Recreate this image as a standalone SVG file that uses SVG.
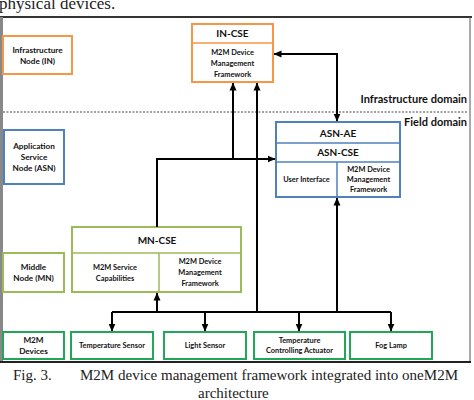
<svg xmlns="http://www.w3.org/2000/svg" width="474" height="400" viewBox="0 0 474 400">
<style>
.bx{fill:#fff;stroke-width:2}
.or{stroke:#f79646}
.bl{stroke:#4f81bd}
.lg{stroke:#9bbb59}
.dg{stroke:#22a658}
text{font-family:Lato,"Liberation Sans",sans-serif;font-weight:bold;fill:#111;text-anchor:middle}
.s{font-size:7.4px}
.m{font-size:8.2px}
.h{font-size:10px}
.d{font-size:11px;text-anchor:end}
.cap{font-family:"Liberation Serif","DejaVu Serif",serif;font-weight:normal;font-size:15px;text-anchor:start;fill:#222}
.ln{fill:none;stroke:#000;stroke-width:2}
</style>
<defs>
<marker id="ah" markerUnits="userSpaceOnUse" markerWidth="8" markerHeight="8" viewBox="0 0 8 8" refX="7.5" refY="4" orient="auto-start-reverse">
<path d="M0,0.5 L8,4 L0,7.5 Z" fill="#000"/>
</marker>
</defs>
<rect width="474" height="400" fill="#fff"/>
<text class="cap" x="-1" y="9" style="font-size:17px">physical devices.</text>
<g id="frame">
<line x1="0" y1="17" x2="472" y2="17" stroke="#333" stroke-width="2"/>
<line x1="1.5" y1="17" x2="1.5" y2="362" stroke="#888" stroke-width="3"/>
<line x1="470" y1="17" x2="470" y2="362" stroke="#555" stroke-width="1"/>
<line x1="0" y1="362" x2="471" y2="362" stroke="#222" stroke-width="2"/>
<line x1="3" y1="112" x2="468" y2="112" stroke="#444" stroke-width="1" stroke-dasharray="2,1.5"/>
</g>
<g id="domains">
<text class="d" x="467" y="103">Infrastructure domain</text>
<text class="d" x="467" y="126">Field domain</text>
</g>
<g id="in-label">
<rect class="bx or" x="3" y="36" width="69" height="38"/>
<text class="m" x="37.5" y="53">Infrastructure</text>
<text class="m" x="37.5" y="64">Node (IN)</text>
</g>
<g id="asn-label">
<rect class="bx bl" x="4" y="130" width="60" height="54"/>
<text class="m" x="34" y="149">Application</text>
<text class="m" x="34" y="160">Service</text>
<text class="m" x="34" y="171">Node (ASN)</text>
</g>
<g id="mn-label">
<rect class="bx lg" x="3" y="253" width="61" height="39"/>
<text class="m" x="33.5" y="270">Middle</text>
<text class="m" x="33.5" y="281">Node (MN)</text>
</g>
<g id="in-cse">
<rect class="bx or" x="192" y="24" width="81" height="58"/>
<line class="or" x1="192" y1="43" x2="273" y2="43" stroke-width="1.5"/>
<text class="h" x="232.5" y="37">IN-CSE</text>
<text class="s" x="232.5" y="55">M2M Device</text>
<text class="s" x="232.5" y="66">Management</text>
<text class="s" x="232.5" y="77">Framework</text>
</g>
<g id="asn">
<rect class="bx bl" x="276" y="122" width="124" height="75"/>
<line class="bl" x1="276" y1="143" x2="400" y2="143" stroke-width="1.5"/>
<line class="bl" x1="276" y1="162" x2="400" y2="162" stroke-width="1.5"/>
<line class="bl" x1="337" y1="162" x2="337" y2="197" stroke-width="1.5"/>
<text class="h" x="338" y="137">ASN-AE</text>
<text class="h" x="338" y="156">ASN-CSE</text>
<text class="s" x="306.5" y="182">User Interface</text>
<text class="s" x="368.5" y="172">M2M Device</text>
<text class="s" x="368.5" y="182">Management</text>
<text class="s" x="368.5" y="192">Framework</text>
</g>
<g id="mn-cse">
<rect class="bx lg" x="72" y="227" width="169" height="65"/>
<line class="lg" x1="72" y1="253" x2="241" y2="253" stroke-width="1.5"/>
<line class="lg" x1="159" y1="253" x2="159" y2="292" stroke-width="1.5"/>
<text class="h" x="157" y="244">MN-CSE</text>
<text class="s" x="115" y="270">M2M Service</text>
<text class="s" x="115" y="281">Capabilities</text>
<text class="s" x="200" y="264">M2M Device</text>
<text class="s" x="200" y="275">Management</text>
<text class="s" x="200" y="286">Framework</text>
</g>
<g id="m2m-devices">
<rect class="bx dg" x="3" y="332" width="61" height="27"/>
<text class="m" x="33.5" y="343">M2M</text>
<text class="m" x="33.5" y="354">Devices</text>
</g>
<g id="temperature-sensor">
<rect class="bx dg" x="71" y="332" width="82" height="27"/>
<text class="s" x="112" y="348">Temperature Sensor</text>
</g>
<g id="light-sensor">
<rect class="bx dg" x="164" y="332" width="82" height="27"/>
<text class="s" x="205" y="348">Light Sensor</text>
</g>
<g id="actuator">
<rect class="bx dg" x="254" y="332" width="91" height="27"/>
<text class="s" x="299.5" y="343">Temperature</text>
<text class="s" x="299.5" y="352.5">Controlling Actuator</text>
</g>
<g id="fog-lamp">
<rect class="bx dg" x="350" y="332" width="82" height="27"/>
<text class="s" x="391" y="348">Fog Lamp</text>
</g>
<g id="connectors">
<path class="ln" d="M337,121 L337,54 L274,54" marker-start="url(#ah)" marker-end="url(#ah)"/>
<path class="ln" d="M233,159 L233,83" marker-end="url(#ah)"/>
<path class="ln" d="M157,227 L157,159 L275,159" marker-end="url(#ah)"/>
<path class="ln" d="M257,312 L257,83" marker-end="url(#ah)"/>
<path class="ln" d="M112,312 L391,312"/>
<path class="ln" d="M157,312 L157,293" marker-end="url(#ah)"/>
<path class="ln" d="M337,312 L337,198" marker-end="url(#ah)"/>
<path class="ln" d="M112,312 L112,331" marker-end="url(#ah)"/>
<path class="ln" d="M205,312 L205,331" marker-end="url(#ah)"/>
<path class="ln" d="M299,312 L299,331" marker-end="url(#ah)"/>
<path class="ln" d="M391,312 L391,331" marker-end="url(#ah)"/>
</g>
<g id="caption">
<text class="cap" x="13" y="380">Fig. 3.</text>
<text class="cap" x="80" y="380" textLength="378" lengthAdjust="spacingAndGlyphs">M2M device management framework integrated into oneM2M</text>
<text class="cap" x="198" y="398">architecture</text>
</g>
</svg>
